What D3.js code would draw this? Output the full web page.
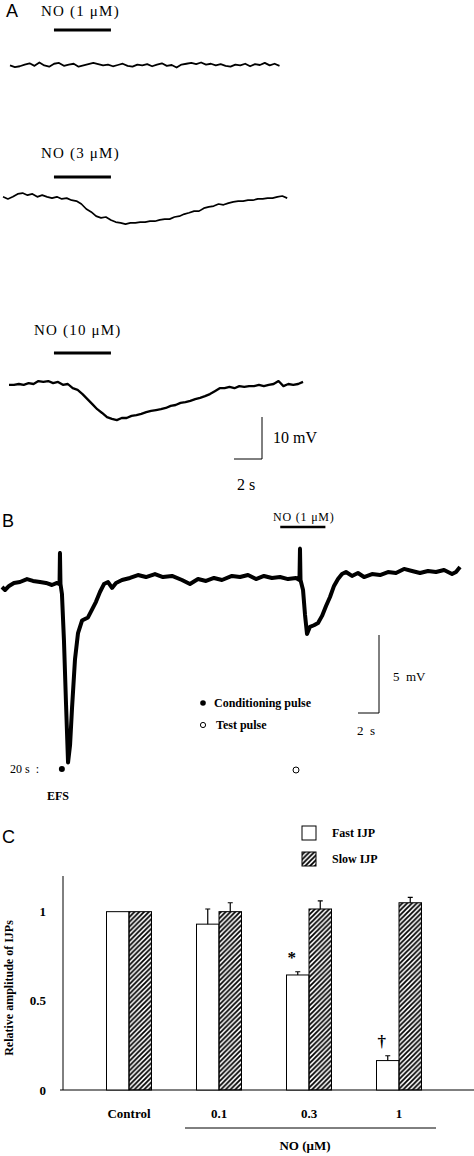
<!DOCTYPE html>
<html>
<head>
<meta charset="utf-8">
<script src="https://cdn.jsdelivr.net/npm/d3@7"></script>
<style>
body { margin: 0; background: #fff; }
text { font-family: "Liberation Serif", "Times New Roman", serif; fill: #000; }
.panel { font-family: "Liberation Sans", Arial, sans-serif; font-size: 18px; }
</style>
</head>
<body>
<script>
// panel A: membrane potential (mV from rest), read every 0.35 s
var sampleStep = 0.35
var startA1 = 0.5, startA2 = 0, startA3 = 0.43
var traceA1 = [-0.1, -0.5, -0.3, 0.1, 0.4, -0.2, 0.6, -0.1, -0.4, 0.3, 0.5, -0.2, 0.1, 0.3,
  -0.4, -0.1, 0.2, 0.5, 0.2, -0.1, 0.1, -0.3, 0.0, 0.3, -0.2, -0.4, 0.1, -0.1, 0.2, -0.3,
  0.1, 0.4, -0.2, 0.0, -0.6, 0.1, 0.3, 0.5, 0.2, 0.6, 0.1, 0.3, -0.1, 0.2, -0.2, -0.4, 0.1,
  -0.1, 0.3, -0.3, 0.2, 0.0, 0.5, -0.1, 0.3, -0.2]
var traceA2 = [-0.2, -0.7, -0.2, 0.5, 0.7, 0.2, 0.5, -0.2, 0.2, -0.2, -0.5, -0.2, -0.7, -0.5,
  -1.0, -1.2, -1.9, -3.1, -3.8, -4.8, -5.2, -5.0, -5.7, -6.2, -6.4, -6.7, -6.4, -6.4, -6.2,
  -6.2, -6.0, -6.0, -5.7, -5.5, -5.5, -5.0, -4.8, -4.3, -4.0, -3.6, -3.6, -2.9, -2.6, -2.4,
  -1.9, -2.1, -1.7, -1.4, -1.2, -1.2, -1.0, -1.0, -0.7, -0.7, -0.5, -0.5, -0.2, 0.0, -0.5]
var traceA3 = [-0.2, -0.2, 0.0, -0.2, 0.2, 0.0, 0.7, 0.5, 0.7, 0.2, 0.5, -0.2, 0.0, -1.0,
  -1.4, -2.4, -3.6, -4.8, -6.0, -6.9, -7.9, -8.3, -8.6, -8.1, -8.1, -7.6, -7.4, -7.1, -6.7,
  -6.4, -6.2, -6.0, -5.7, -5.2, -5.0, -4.5, -4.3, -4.0, -3.6, -3.3, -2.9, -2.4, -1.7, -1.0,
  -1.0, -0.7, -1.0, -0.5, -0.7, -0.5, -0.5, -0.2, -0.5, -0.2, 0.0, 0.7, -0.5, 0.0, -0.2, 0.0, 0.5]
var labelsA = ["NO (1 \u03bcM)", "NO (3 \u03bcM)", "NO (10 \u03bcM)"]
var noOnA = [3.64, 7.71]

// panel B: [time s, mV]
var traceB = [[0, -0.45], [0.29, -0.64], [0.67, -0.38], [1.14, -0.19], [1.71, -0.13], [2.38, 0.06],
  [2.95, -0.06], [3.62, -0.13], [4.19, -0.19], [4.76, -0.32], [5.24, -0.19], [5.48, -0.26],
  [5.52, 1.73], [5.57, -0.26], [5.71, -0.9], [5.9, -3.85], [6.1, -8.0], [6.29, -11.7],
  [6.48, -10.6], [6.67, -8.2], [6.95, -5.1], [7.24, -3.4], [7.62, -2.6], [8.19, -2.4],
  [8.57, -1.9], [8.95, -1.4], [9.33, -0.77], [9.71, -0.26], [10.1, -0.13], [10.48, -0.51],
  [10.86, -0.19], [11.43, 0], [12.19, 0.13], [12.95, 0.32], [13.71, 0.19], [14.57, 0.38],
  [15.33, 0.19], [16.19, 0.26], [17.14, 0], [17.9, -0.26], [18.67, 0.06], [19.43, -0.06],
  [20.19, 0.13], [20.95, 0], [21.9, 0.26], [22.67, 0.19], [23.43, 0.32], [24.19, 0.06],
  [24.95, 0.26], [25.71, 0.13], [26.48, 0.19], [27.24, 0.06], [28.0, 0.13], [28.33, 0],
  [28.38, 2.0], [28.43, 0], [28.67, -0.64], [28.86, -2.24], [29.05, -3.46], [29.33, -3.0],
  [29.71, -2.9], [30.1, -2.76], [30.48, -2.3], [30.86, -1.67], [31.24, -1.09], [31.62, -0.38],
  [32.0, 0.06], [32.38, 0.38], [32.76, 0.51], [33.33, 0.26], [33.9, 0.45], [34.48, 0.19],
  [35.24, 0.38], [36.0, 0.32], [36.76, 0.51], [37.52, 0.45], [38.29, 0.71], [39.05, 0.58],
  [39.81, 0.45], [40.57, 0.58], [41.33, 0.51], [42.1, 0.64], [42.86, 0.38], [43.24, 0.51],
  [43.62, 0.83]]
var pulseTimes = [5.7, 28.0]
var noOnB = [26.5, 30.8]

// panel C
var groups = ["Control", "0.1", "0.3", "1"]
var fastIJP = [1, 0.93, 0.645, 0.165]
var fastErr = [0, 0.085, 0.018, 0.027]
var slowIJP = [1, 1.0, 1.015, 1.05]
var slowErr = [0, 0.05, 0.045, 0.03]
var signif = ["", "", "*", "\u2020"]
var yTicks = [0, 0.5, 1]

var svg = d3.select("body").append("svg").attr("width", 474).attr("height", 1156)

var defs = svg.append("defs")
defs.append("pattern").attr("id", "hatch").attr("patternUnits", "userSpaceOnUse")
  .attr("width", 4.8).attr("height", 4.8)
  .append("path").attr("d", "M0,4.8 L4.8,0 M-1.2,1.2 L1.2,-1.2 M3.6,6 L6,3.6")
  .attr("stroke", "#000").attr("stroke-width", 1.8)

// ---------- A ----------
svg.append("text").attr("class", "panel").attr("x", 6).attr("y", 17).text("A")

var xA = d3.scaleLinear().domain([0, 2]).range([3, 31])
var mvA = d3.scaleLinear().domain([0, 10]).range([0, 42])

var rowsA = [
  {vals: traceA1, t0: startA1, base: 65, label: 0, lx: 41, ly: 16, bar: 30, w: 1.8},
  {vals: traceA2, t0: startA2, base: 196, label: 1, lx: 41, ly: 158, bar: 177, w: 1.7},
  {vals: traceA3, t0: startA3, base: 384, label: 2, lx: 34, ly: 335, bar: 353, w: 2.3}
]

rowsA.forEach(function(r) {
  var line = d3.line()
    .x(function(d, i) { return xA(r.t0 + i * sampleStep) })
    .y(function(d) { return r.base - mvA(d) })
  svg.append("path").attr("d", line(r.vals)).attr("fill", "none")
    .attr("stroke", "#000").attr("stroke-width", r.w).attr("stroke-linejoin", "round")
  svg.append("text").attr("x", r.lx).attr("y", r.ly).attr("font-size", 15)
    .attr("letter-spacing", 1.2).text(labelsA[r.label])
  svg.append("line").attr("x1", xA(noOnA[0])).attr("x2", xA(noOnA[1]))
    .attr("y1", r.bar).attr("y2", r.bar).attr("stroke", "#000").attr("stroke-width", 3)
})

// scale bar A
var sbA = {x: 262, y: 459}
svg.append("path")
  .attr("d", "M" + (sbA.x - (xA(2) - xA(0))) + "," + sbA.y + "H" + sbA.x + "V" + (sbA.y - mvA(10)))
  .attr("fill", "none").attr("stroke", "#000").attr("stroke-width", 1)
svg.append("text").attr("x", 273).attr("y", 443).attr("font-size", 16).text("10 mV")
svg.append("text").attr("x", 237).attr("y", 490).attr("font-size", 16).text("2 s")

// ---------- B ----------
svg.append("text").attr("class", "panel").attr("x", 2).attr("y", 527).text("B")

var xB = d3.scaleLinear().domain([0, 2]).range([2, 23])
var yB = d3.scaleLinear().domain([0, 5]).range([580, 502])

svg.append("path")
  .attr("d", d3.line().x(function(d) { return xB(d[0]) }).y(function(d) { return yB(d[1]) })(traceB))
  .attr("fill", "none").attr("stroke", "#000").attr("stroke-width", 4).attr("stroke-linejoin", "round")
// stimulus artefacts are thin
traceB.forEach(function(d, i) {
  if (d[1] > 1.5) {
    svg.append("line").attr("x1", xB(d[0])).attr("x2", xB(d[0]))
      .attr("y1", yB(d[1]) - 2).attr("y2", yB(0)).attr("stroke", "#000").attr("stroke-width", 1.6)
  }
})

svg.append("text").attr("x", 273).attr("y", 521).attr("font-size", 12)
  .attr("letter-spacing", 0.8).text("NO (1 \u03bcM)")
svg.append("line").attr("x1", xB(noOnB[0])).attr("x2", xB(noOnB[1]))
  .attr("y1", 527).attr("y2", 527).attr("stroke", "#000").attr("stroke-width", 2.5)

// scale bar B
var sbB = {x: 379, y: 713}
svg.append("path")
  .attr("d", "M" + (sbB.x - (xB(2) - xB(0))) + "," + sbB.y + "H" + sbB.x + "V" + (sbB.y - (yB(0) - yB(5))))
  .attr("fill", "none").attr("stroke", "#000").attr("stroke-width", 1)
svg.append("text").attr("x", 393).attr("y", 681).attr("font-size", 13).attr("xml:space", "preserve").text("5  mV")
svg.append("text").attr("x", 357).attr("y", 735).attr("font-size", 13).attr("xml:space", "preserve").text("2  s")

// legend B
svg.append("circle").attr("cx", 203).attr("cy", 703).attr("r", 2.8).attr("fill", "#000")
svg.append("text").attr("x", 214).attr("y", 707).attr("font-size", 12).attr("font-weight", "bold").text("Conditioning pulse")
svg.append("circle").attr("cx", 203).attr("cy", 725).attr("r", 2.6).attr("fill", "#fff").attr("stroke", "#000")
svg.append("text").attr("x", 216).attr("y", 729).attr("font-size", 12).attr("font-weight", "bold").text("Test pulse")

// pulse markers
svg.append("text").attr("x", 10).attr("y", 773).attr("font-size", 12).attr("xml:space", "preserve").text("20 s  :")
svg.append("circle").attr("cx", xB(pulseTimes[0])).attr("cy", 769).attr("r", 3).attr("fill", "#000")
svg.append("circle").attr("cx", xB(pulseTimes[1])).attr("cy", 770).attr("r", 3).attr("fill", "#fff").attr("stroke", "#000")
svg.append("text").attr("x", 47).attr("y", 800).attr("font-size", 12).attr("font-weight", "bold").text("EFS")

// ---------- C ----------
svg.append("text").attr("class", "panel").attr("x", 2).attr("y", 843).text("C")

var yC = d3.scaleLinear().domain([0, 1.2]).range([1090, 876])
var xC = d3.scaleBand().domain(groups).range([84, 444]).paddingInner(0.5).paddingOuter(0.25)
var xSub = d3.scaleBand().domain(["fast", "slow"]).range([0, xC.bandwidth()])

// legend C
svg.append("rect").attr("x", 302).attr("y", 826).attr("width", 14).attr("height", 14)
  .attr("fill", "#fff").attr("stroke", "#000")
svg.append("text").attr("x", 332).attr("y", 837).attr("font-size", 12).attr("font-weight", "bold").text("Fast IJP")
svg.append("rect").attr("x", 302).attr("y", 852).attr("width", 14).attr("height", 14)
  .attr("fill", "url(#hatch)").attr("stroke", "#000")
svg.append("text").attr("x", 332).attr("y", 863).attr("font-size", 12).attr("font-weight", "bold").text("Slow IJP")

// axes
svg.append("line").attr("x1", 63).attr("x2", 63).attr("y1", yC(1.2)).attr("y2", yC(0)).attr("stroke", "#000")
svg.append("line").attr("x1", 60).attr("x2", 474).attr("y1", yC(0)).attr("y2", yC(0)).attr("stroke", "#000")

svg.selectAll(".ytick").data(yTicks).join("text").attr("class", "ytick")
  .attr("x", 46).attr("y", function(d) { return yC(d) + 4.5 })
  .attr("text-anchor", "end").attr("font-size", 13).attr("font-weight", "bold")
  .text(function(d) { return d })

svg.append("text").attr("transform", "translate(13,988) rotate(-90)")
  .attr("text-anchor", "middle").attr("font-size", 12).attr("font-weight", "bold")
  .text("Relative amplitude of IJPs")

var series = [
  {key: "fast", vals: fastIJP, err: fastErr, fill: "#fff"},
  {key: "slow", vals: slowIJP, err: slowErr, fill: "url(#hatch)"}
]

series.forEach(function(s) {
  var g = svg.append("g")
  g.selectAll("rect").data(groups).join("rect")
    .attr("x", function(d) { return xC(d) + xSub(s.key) })
    .attr("y", function(d, i) { return yC(s.vals[i]) })
    .attr("width", xSub.bandwidth())
    .attr("height", function(d, i) { return yC(0) - yC(s.vals[i]) })
    .attr("fill", s.fill).attr("stroke", "#000").attr("stroke-width", 1)
  groups.forEach(function(d, i) {
    if (!s.err[i]) return
    var cx = xC(d) + xSub(s.key) + xSub.bandwidth() / 2
    var y1 = yC(s.vals[i]), y2 = yC(s.vals[i] + s.err[i])
    g.append("path").attr("d", "M" + cx + "," + y1 + "V" + y2 + "M" + (cx - 2.5) + "," + y2 + "H" + (cx + 2.5))
      .attr("stroke", "#000").attr("stroke-width", 1.2).attr("fill", "none")
  })
})

svg.selectAll(".sig").data(groups).join("text").attr("class", "sig")
  .attr("x", function(d) { return xC(d) + xSub("fast") + xSub.bandwidth() / 2 - 6 })
  .attr("y", function(d, i) { return yC(fastIJP[i] + fastErr[i]) - 9 })
  .attr("text-anchor", "middle").attr("font-size", 17).attr("font-weight", "bold")
  .text(function(d, i) { return signif[i] })

svg.selectAll(".xlab").data(groups).join("text").attr("class", "xlab")
  .attr("x", function(d) { return xC(d) + xC.bandwidth() / 2 })
  .attr("y", 1118).attr("text-anchor", "middle").attr("font-size", 13).attr("font-weight", "bold")
  .text(function(d) { return d })

svg.append("line").attr("x1", 185).attr("x2", 436).attr("y1", 1128).attr("y2", 1128).attr("stroke", "#000")
svg.append("text").attr("x", 305).attr("y", 1150).attr("text-anchor", "middle")
  .attr("font-size", 13).attr("font-weight", "bold").text("NO (\u03bcM)")
</script>
</body>
</html>
